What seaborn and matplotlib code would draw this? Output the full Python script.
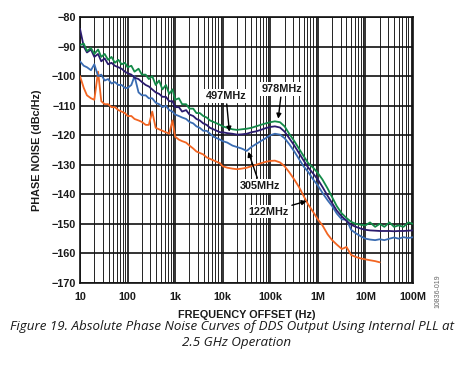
import numpy as np
import pandas as pd
import matplotlib
matplotlib.use("Agg")
import matplotlib.pyplot as plt
import matplotlib.ticker as mticker
import seaborn as sns

# ---------------- data ----------------
freq_hz = [10, 12, 14, 17, 20, 24, 28, 33, 39, 46, 54, 64, 75, 88,
           100, 120, 140, 170, 200, 240, 280, 330, 390, 460, 540, 640, 750, 880,
           1e3, 1.2e3, 1.4e3, 1.7e3, 2e3, 2.4e3, 2.8e3, 3.3e3, 3.9e3, 4.6e3, 5.4e3, 6.4e3, 7.5e3, 8.8e3,
           1e4, 1.25e4, 1.6e4, 2e4, 2.5e4, 3.2e4, 4e4, 5e4, 6.3e4, 8e4,
           1e5, 1.25e5, 1.6e5, 2e5, 2.5e5, 3.2e5, 4e5, 5e5, 6.3e5, 8e5,
           1e6, 1.25e6, 1.6e6, 2e6, 2.5e6, 3.2e6, 4e6, 5e6, 6.3e6, 8e6,
           1e7, 1.25e7, 1.6e7, 2e7, 2.5e7, 3.2e7, 4e7, 5e7, 6.3e7, 8e7, 1e8]

pn_978 = [-89.5, -89, -91.5, -90.5, -92.5, -91, -93.5, -92.5, -94.5, -93.5, -95.5, -94.5, -96, -95.5,
          -97, -96.5, -98.5, -97.5, -99.5, -99.5, -101, -100, -103, -101.5, -104.5, -103, -106, -104.5,
          -108, -107.5, -109.5, -109.5, -111, -111, -112.5, -112.5, -113.5, -114, -115, -115.5, -116, -116.5,
          -117, -117.5, -118, -118.2, -118, -117.8, -117.5, -117, -116.5, -116,
          -115.6, -115.3, -115.6, -117, -119.5, -122, -124.5, -127, -129.5, -131,
          -132.8, -135, -138, -141, -144, -146.5, -148, -149.3, -150, -150.3,
          -150.5, -149.5, -151, -150, -151, -149.5, -151, -150.5, -151, -149.5, -150]

pn_497 = [-84, -90, -92, -91, -93.5, -92.5, -95, -94, -96, -95.5, -96.5, -97, -97.5, -98.5,
          -99, -99.5, -100.5, -101, -102, -103, -103.5, -104.5, -105.5, -106, -107, -107, -108.5, -108.5,
          -110.5, -110.5, -112, -111.5, -113, -113.5, -114.5, -115, -116, -116.5, -117.5, -118, -118.5, -119,
          -119, -119.3, -119.5, -119.8, -119.7, -119.5, -119, -118.7, -118.2, -117.6,
          -117.2, -117, -117.4, -118.8, -121, -123.5, -126, -128.5, -131, -133,
          -135, -137.5, -140.5, -143, -145.5, -147.5, -149, -150.3, -151, -151.6,
          -152, -152.2, -152.3, -152.4, -152.4, -152.4, -152.5, -152.4, -152.4, -152.3, -152.2]

pn_305 = [-95, -96.5, -97, -98, -96, -100, -99.5, -101.5, -101, -102.5, -102, -103, -103, -104,
          -104, -103, -100, -105.5, -106.5, -106.5, -107.5, -107.5, -109, -109.5, -110.5, -110, -111.5, -112,
          -113, -113.5, -114, -114.5, -115.5, -116, -117, -117.5, -118.5, -118.5, -119.5, -120.5, -121, -121.5,
          -122, -122.5, -123.5, -124, -124.5, -125.3, -124, -123, -122, -121,
          -120, -119.5, -119.8, -121, -123, -125.5, -128, -130.5, -132.5, -135,
          -137, -139.5, -142, -144, -146.5, -148.5, -148.5, -152, -153.2, -154.2,
          -155, -155.3, -155.5, -155.2, -155.5, -155, -154.6, -155, -154.5, -154.8, -154.5]

pn_122 = [-100, -104, -106.5, -107.5, -108, -98.5, -108.5, -109.5, -109.5, -110.5, -110.5, -111.5, -112, -112.5,
          -113.5, -113.5, -114.5, -115, -115.5, -116.5, -116.5, -112, -117.5, -118, -118.5, -119, -119.5, -115,
          -120.5, -121.5, -122, -122.5, -123.5, -124.5, -125.5, -126, -126.5, -127.5, -128, -128.5, -129, -129.5,
          -130.5, -131, -131.3, -131.5, -131.3, -131, -130.5, -130, -129.5, -129,
          -128.7, -128.6, -129.2, -130.5, -132.5, -135, -137.5, -140.5, -143.5, -146,
          -148.5, -150.5, -153.5, -155.5, -157, -158.5, -157.8, -160.5, -161.2, -161.7,
          -162, -162.3, -162.6, -163, np.nan, np.nan, np.nan, np.nan, np.nan, np.nan, np.nan]

series_names = ["122MHz", "305MHz", "497MHz", "978MHz"]
series_values = [pn_122, pn_305, pn_497, pn_978]
series_colors = ["#f26522", "#3a6cb2", "#2b1b6e", "#138a48"]

x_tick_values = [10, 100, 1e3, 1e4, 1e5, 1e6, 1e7, 1e8]
x_tick_labels = ["10", "100", "1k", "10k", "100k", "1M", "10M", "100M"]
y_tick_values = [-170, -160, -150, -140, -130, -120, -110, -100, -90, -80]
y_tick_labels = ["\u2212170", "\u2212160", "\u2212150", "\u2212140", "\u2212130",
                 "\u2212120", "\u2212110", "\u2212100", "\u221290", "\u221280"]

# ---------------- figure ----------------
rows = []
for name, vals in zip(series_names, series_values):
    for f, v in zip(freq_hz, vals):
        rows.append((f, v, name))
df = pd.DataFrame(rows, columns=["freq", "pn", "series"]).dropna()

sns.set_style("white")
plt.rcParams["font.family"] = ["Liberation Sans", "DejaVu Sans"]

W, H = 474, 366
fig = plt.figure(figsize=(W / 100, H / 100), dpi=100)
ax = fig.add_axes([80 / W, 1 - 283 / H, 333 / W, 266 / H])
ax.set_xscale("log")

sns.lineplot(data=df, x="freq", y="pn", hue="series", hue_order=series_names,
             palette=dict(zip(series_names, series_colors)), estimator=None,
             linewidth=1.3, legend=False, ax=ax, zorder=3)

ax.set_xlim(10, 1e8)
ax.set_ylim(-170, -80)
ax.xaxis.set_major_locator(mticker.FixedLocator(x_tick_values))
ax.xaxis.set_major_formatter(mticker.FixedFormatter(x_tick_labels))
ax.xaxis.set_minor_locator(mticker.LogLocator(base=10, subs=np.arange(2, 10)))
ax.xaxis.set_minor_formatter(mticker.NullFormatter())
ax.yaxis.set_major_locator(mticker.FixedLocator(y_tick_values))
ax.yaxis.set_major_formatter(mticker.FixedFormatter(y_tick_labels))

ax.grid(which="major", axis="both", color="#111111", linewidth=1.2, zorder=0)
ax.grid(which="minor", axis="x", color="#222222", linewidth=0.7, zorder=0)
ax.set_axisbelow(True)
for s in ax.spines.values():
    s.set_color("#111111")
    s.set_linewidth(1.2)

FS = 7.8
ax.tick_params(which="both", length=0)
ax.tick_params(axis="x", pad=6.5, labelsize=FS)
ax.tick_params(axis="y", pad=3, labelsize=FS)
for lab in ax.get_xticklabels() + ax.get_yticklabels():
    lab.set_fontweight("bold")
    lab.set_color("#1a1a1a")

ax.set_xlabel("FREQUENCY OFFSET (Hz)", fontsize=FS, fontweight="bold", color="#1a1a1a")
ax.set_ylabel("PHASE NOISE (dBc/Hz)", fontsize=FS, fontweight="bold", color="#1a1a1a")
ax.xaxis.set_label_coords(0.5, -0.1)
ax.yaxis.set_label_coords(-0.115, 0.5)

# annotations
bbox = dict(boxstyle="square,pad=0.15", fc="white", ec="none")
arrow = dict(arrowstyle="-|>", color="black", lw=1.0, mutation_scale=7, shrinkA=1, shrinkB=0)
ann = [("497MHz", (1.38e4, -118.8), (1.17e4, -106.7)),
       ("978MHz", (1.47e5, -114.4), (1.74e5, -104.4)),
       ("305MHz", (3.45e4, -125.6), (6.1e4, -137.2)),
       ("122MHz", (5.8e5, -142.3), (9.3e4, -145.9))]
for text, tip, pos in ann:
    ax.annotate(text, xy=tip, xytext=pos, ha="center", va="center",
                fontsize=FS, fontweight="bold", color="#1a1a1a",
                bbox=bbox, arrowprops=arrow, zorder=5)

fig.text(438 / W, 1 - 291 / H, "10836-019", rotation=90, ha="center", va="center",
         fontsize=5, color="#666666")

cap_kw = dict(ha="center", va="baseline", style="italic", color="#1a1a1a",
              family=["Open Sans", "DejaVu Sans"])
t1 = fig.text(232 / W, 1 - 330 / H,
              "Figure 19. Absolute Phase Noise Curves of DDS Output Using Internal PLL at",
              fontsize=10, **cap_kw)
fig.canvas.draw()
w = t1.get_window_extent().width
t1.set_fontsize(10 * 446 / w)
fs = t1.get_fontsize()
fig.text(237 / W, 1 - 346 / H, "2.5 GHz Operation", fontsize=fs, **cap_kw)

fig.savefig("out.png", dpi=100)
